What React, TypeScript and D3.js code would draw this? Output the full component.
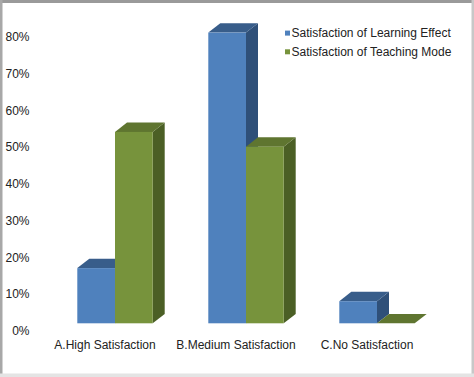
import React from "react";
import * as d3 from "d3";

const categories = ["A.High Satisfaction", "B.Medium Satisfaction", "C.No Satisfaction"];
const seriesNames = ["Satisfaction of Learning Effect", "Satisfaction of Teaching Mode"];
const learningEffect = [15, 79, 6];
const teachingMode = [52, 48, 0];
const tickValues = [0, 10, 20, 30, 40, 50, 60, 70, 80];

const W = 474;
const H = 377;
const DX = 12;
const DY = 9.4;

const palette = [
  { front: "#4f81bd", top: "#385d8a", side: "#2f5079" },
  { front: "#77933c", top: "#5f7530", side: "#4b5f25" },
];

export default function App() {
  const x = d3.scaleBand<string>().domain(categories).range([49.5, 442.5]).padding(0);
  const inner = d3.scaleBand<number>().domain([0, 1]).range([-37.7, 37.7]).padding(0);
  const yBar = d3.scaleLinear().domain([0, 80]).range([323.3, 28.9]);
  const yLabel = d3.scaleLinear().domain([0, 80]).range([331, 37]);
  const series = [learningEffect, teachingMode];
  const bw = inner.bandwidth();
  const base = yBar(0);

  const font = "Liberation Sans, Arial, sans-serif";

  return (
    <svg width={W} height={H} style={{ position: "absolute", left: 0, top: 0 }}>
      <rect x={0} y={0} width={W} height={H} fill="#ffffff" />
      {/* frame */}
      <rect x={0} y={0} width={W} height={3} fill="#9a9a9a" />
      <rect x={0} y={0} width={2.5} height={H} fill="#a8a8a8" />
      <rect x={471.5} y={0} width={2.5} height={H} fill="#c8c8c8" />
      <rect x={0} y={373.5} width={W} height={3.5} fill="#e4e4e4" />

      {/* y tick labels */}
      {tickValues.map((t) => (
        <text
          key={t}
          x={29.5}
          y={yLabel(t)}
          textAnchor="end"
          dominantBaseline="central"
          fontFamily={font}
          fontSize={12}
          fill="#222"
        >
          {t}%
        </text>
      ))}

      {/* bars */}
      {categories.map((c, ci) => {
        const cx = (x(c) as number) + x.bandwidth() / 2;
        return (
          <g key={c}>
            {series.map((s, si) => {
              const x0 = cx + (inner(si) as number);
              const y0 = yBar(s[ci]);
              const col = palette[si];
              const h = base - y0;
              return (
                <g key={si}>
                  <polygon
                    points={`${x0 + bw},${y0} ${x0 + bw + DX},${y0 - DY} ${x0 + bw + DX},${base - DY} ${x0 + bw},${base}`}
                    fill={col.side}
                  />
                  <polygon
                    points={`${x0},${y0} ${x0 + DX},${y0 - DY} ${x0 + bw + DX},${y0 - DY} ${x0 + bw},${y0}`}
                    fill={col.top}
                  />
                  {h > 0 && <rect x={x0} y={y0} width={bw} height={h} fill={col.front} />}
                </g>
              );
            })}
            <text
              x={cx - 10}
              y={345}
              textAnchor="middle"
              dominantBaseline="central"
              fontFamily={font}
              fontSize={12}
              fill="#222"
            >
              {c}
            </text>
          </g>
        );
      })}

      {/* legend */}
      {seriesNames.map((n, i) => (
        <g key={n} transform={`translate(285, ${33.2 + i * 18.7})`}>
          <rect x={0} y={-2.6} width={5} height={5} fill={palette[i].front} />
          <text
            x={6.5}
            y={0}
            dominantBaseline="central"
            fontFamily={font}
            fontSize={12}
            fill="#222"
          >
            {n}
          </text>
        </g>
      ))}
    </svg>
  );
}
